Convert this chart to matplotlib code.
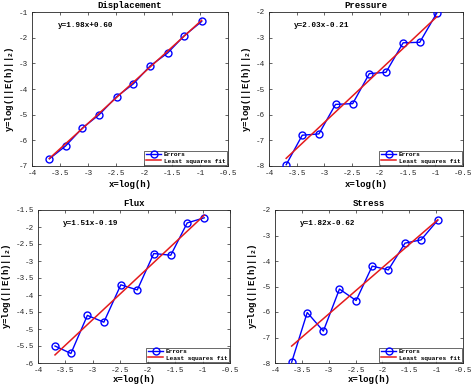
import matplotlib
matplotlib.use('Agg')
import matplotlib.pyplot as plt
import numpy as np

# log(h) values, shared by all four panels
log_h = [-3.69, -3.40, -3.10, -2.80, -2.49, -2.19, -1.89, -1.58, -1.28, -0.97]

titles = ['Displacement', 'Pressure', 'Flux', 'Stress']

err_disp = [-6.72, -6.22, -5.52, -5.00, -4.30, -3.80, -3.10, -2.60, -1.92, -1.37]
err_pres = [-7.95, -6.80, -6.75, -5.60, -5.57, -4.40, -4.35, -3.20, -3.18, -2.03]
err_flux = [-5.50, -5.72, -4.60, -4.80, -3.70, -3.85, -2.78, -2.83, -1.88, -1.73]
err_stress = [-7.97, -6.02, -6.75, -5.10, -5.55, -4.20, -4.35, -3.30, -3.17, -2.40]

# least squares fit coefficients (slope, intercept)
slopes = [1.98, 2.03, 1.51, 1.82]
intercepts = [0.60, -0.21, -0.19, -0.62]

ylims = [(-7, -1), (-8, -2), (-6, -1.5), (-8, -2)]
yticks = [np.arange(-7, -0.5, 1), np.arange(-8, -1.5, 1),
          np.arange(-6, -1.25, 0.5), np.arange(-8, -1.5, 1)]

FONT = 'Liberation Mono'
plt.rcParams['font.family'] = [FONT, 'DejaVu Sans']
plt.rcParams['mathtext.fontset'] = 'custom'
plt.rcParams['mathtext.rm'] = FONT
plt.rcParams['mathtext.it'] = FONT
plt.rcParams['mathtext.bf'] = FONT + ':bold'

fig = plt.figure(figsize=(4.74, 3.87), dpi=100, facecolor='white')

# axes boxes in pixels: left, top, right, bottom
boxes = [(32, 12, 228, 166), (269, 12, 463, 166),
         (38, 210, 230, 363), (275, 210, 463, 363)]
W, H = 474, 387

all_err = [err_disp, err_pres, err_flux, err_stress]

for i in range(4):
    l, t, r, b = boxes[i]
    ax = fig.add_axes([l / W, 1 - b / H, (r - l) / W, (b - t) / H])
    ax.plot(log_h, all_err[i], '-o', color='#0000ff', linewidth=1.0,
            markersize=5, markerfacecolor='none', markeredgewidth=1.0,
            label='Errors', zorder=3)
    xs = np.array([log_h[0], log_h[-1]])
    ax.plot(xs, slopes[i] * xs + intercepts[i], '-', color='#e41a1c',
            linewidth=1.1, label='Least squares fit', zorder=4)

    ax.set_xlim(-4, -0.5)
    ax.set_ylim(*ylims[i])
    ax.set_xticks(np.arange(-4, -0.25, 0.5))
    ax.set_xticklabels(['-4', '-3.5', '-3', '-2.5', '-2', '-1.5', '-1', '-0.5'])
    ax.set_yticks(yticks[i])
    ax.set_yticklabels([f'{v:g}' for v in yticks[i]])
    ax.tick_params(direction='in', top=True, right=True, length=2.5,
                   width=0.5, labelsize=5.5, pad=3, colors='#262626')
    for sp in ax.spines.values():
        sp.set_linewidth(0.6)
        sp.set_color('#262626')

    sign = '+' if intercepts[i] >= 0 else '-'
    ax.text(0.13, 0.91, f'y={slopes[i]:.2f}x{sign}{abs(intercepts[i]):.2f}',
            transform=ax.transAxes, fontsize=5.5, fontweight='bold',
            ha='left', va='center')

    ax.set_title(titles[i], fontsize=6.5, fontweight='bold', pad=3)
    ax.set_xlabel('x=log(h)', fontsize=6.5, fontweight='bold',
                  labelpad=2 if i < 2 else 0.5)
    ax.set_ylabel(r'y=log(||E(h)||$_{\mathbf{2}}$)', fontsize=6.5,
                  fontweight='bold', labelpad=2)

    leg = ax.legend(loc='lower right', frameon=True,
                    fancybox=False, borderaxespad=0.15, borderpad=0.25,
                    handlelength=2.6, handletextpad=0.4, labelspacing=0.15,
                    prop={'family': FONT, 'weight': 'bold', 'size': 4.4})
    leg.get_frame().set_edgecolor('#262626')
    leg.get_frame().set_linewidth(0.6)

fig.savefig('out.png', dpi=100, facecolor='white')
